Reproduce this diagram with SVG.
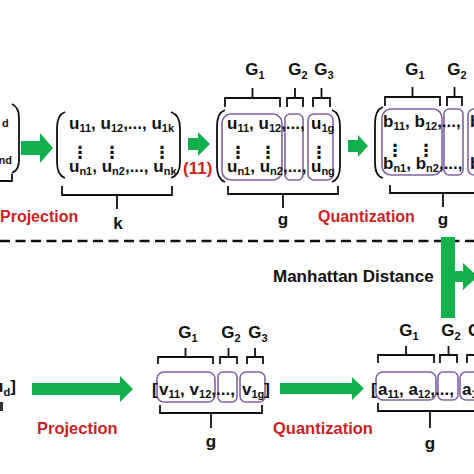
<svg xmlns="http://www.w3.org/2000/svg" width="474" height="474" viewBox="0 0 474 474">
<style>
.t{font-family:"Liberation Sans",Arial,sans-serif;font-weight:bold;font-size:17px;fill:#111}
.s{font-size:11px}
.red{fill:#cc1f26;font-size:16px}
.dots{font-family:"DejaVu Sans",sans-serif;font-weight:bold;font-size:17px;fill:#111;text-anchor:middle}
.br{fill:none;stroke:#111;stroke-width:1.8}
.box{fill:none;stroke:#8064a2;stroke-width:1.6}
.ar{fill:#12b04c}
.mid{text-anchor:middle}
</style>
<rect width="474" height="474" fill="#fff"/>

<!-- top left partial matrix -->
<g id="matrixX">
<text class="t s" x="2" y="127">d</text>
<text class="t s" x="-1.5" y="164">nd</text>
<path class="br" d="M12 104 Q19 107 19 118 L19 160 Q19 170 12 173"/>
<path class="br" d="M0 181 L12 181 L12 174"/>
</g>

<!-- matrix U (k) -->
<g id="matrixU">
<path class="br" d="M65 112 Q57 115 57 128 L57 162 Q57 175 65 178"/>
<path class="br" d="M171 112 Q180 115 180 128 L180 162 Q180 175 171 178"/>
<text class="t" x="69" y="129">u<tspan class="s" dy="3">11</tspan><tspan dy="-3">, u</tspan><tspan class="s" dy="3">12</tspan><tspan dy="-3">,..., u</tspan><tspan class="s" dy="3">1k</tspan></text>
<text class="dots" x="80" y="158">⋮</text>
<text class="dots" x="112" y="158">⋮</text>
<text class="dots" x="162" y="158">⋮</text>
<text class="t" x="69" y="172">u<tspan class="s" dy="3">n1</tspan><tspan dy="-3">, u</tspan><tspan class="s" dy="3">n2</tspan><tspan dy="-3">,..., u</tspan><tspan class="s" dy="3">nk</tspan></text>
<path class="br" d="M62 186 L62 195 L172 195 L172 186 M117 195 L117 209"/>
<text class="t mid" x="118" y="229">k</text>
</g>
<text class="t red" x="183" y="174" style="font-size:17px">(11)</text>

<!-- matrix U grouped (g) -->
<g id="matrixUg">
<path class="br" d="M225 110 Q217 113 217 126 L217 166 Q217 179 225 182"/>
<path class="br" d="M332 110 Q340 113 340 126 L340 166 Q340 179 332 182"/>
<rect class="box" x="222" y="114" width="60" height="66" rx="9"/>
<rect class="box" x="285" y="114" width="18" height="66" rx="5"/>
<rect class="box" x="308" y="114" width="25" height="66" rx="6"/>
<text class="t" x="227" y="129">u<tspan class="s" dy="3">11</tspan><tspan dy="-3">, u</tspan><tspan class="s" dy="3">12</tspan><tspan dy="-3">,...,</tspan></text>
<text class="t" x="311" y="129">u<tspan class="s" dy="3">1g</tspan></text>
<text class="dots" x="238" y="158">⋮</text>
<text class="dots" x="268" y="158">⋮</text>
<text class="dots" x="319" y="158">⋮</text>
<text class="t" x="227" y="172">u<tspan class="s" dy="3">n1</tspan><tspan dy="-3">, u</tspan><tspan class="s" dy="3">n2</tspan><tspan dy="-3">,...,</tspan></text>
<text class="t" x="311" y="172">u<tspan class="s" dy="3">ng</tspan></text>
<path class="br" d="M225 107 L225 98 L280 98 L280 107 M252.5 98 L252.5 88"/>
<path class="br" d="M287 107 L287 98 L303 98 L303 107 M295 98 L295 88"/>
<path class="br" d="M313 107 L313 98 L330 98 L330 107 M321.5 98 L321.5 88"/>
<text class="t mid" x="255" y="75">G<tspan class="s" dy="4">1</tspan></text>
<text class="t mid" x="298" y="75">G<tspan class="s" dy="4">2</tspan></text>
<text class="t mid" x="324" y="75">G<tspan class="s" dy="4">3</tspan></text>
<path class="br" d="M228 186 L228 194 L338 194 L338 186 M283 194 L283 208"/>
<text class="t mid" x="283" y="225">g</text>
</g>

<!-- matrix B -->
<g id="matrixB">
<path class="br" d="M383 107 Q375 110 375 123 L375 163 Q375 176 383 178"/>
<rect class="box" x="382" y="109" width="60" height="66" rx="9"/>
<rect class="box" x="444" y="109" width="19" height="66" rx="5"/>
<rect class="box" x="468" y="109" width="24" height="66" rx="6"/>
<text class="t" x="383" y="127">b<tspan class="s" dy="3">11</tspan><tspan dy="-3">, b</tspan><tspan class="s" dy="3">12</tspan><tspan dy="-3">,...,</tspan></text>
<text class="t" x="470" y="127">b</text>
<text class="dots" x="395" y="156">⋮</text>
<text class="dots" x="426" y="156">⋮</text>
<text class="t" x="383" y="169">b<tspan class="s" dy="3">n1</tspan><tspan dy="-3">, b</tspan><tspan class="s" dy="3">n2</tspan><tspan dy="-3">,...,</tspan></text>
<text class="t" x="470" y="169">b</text>
<path class="br" d="M385 106 L385 97 L440 97 L440 106 M412.5 97 L412.5 87"/>
<path class="br" d="M447 106 L447 97 L462 97 L462 106 M454.5 97 L454.5 87"/>
<text class="t mid" x="415" y="75">G<tspan class="s" dy="4">1</tspan></text>
<text class="t mid" x="457" y="75">G<tspan class="s" dy="4">2</tspan></text>
<path class="br" d="M390 185 L390 193 L480 193 M443 193 L443 207"/>
<text class="t mid" x="443" y="225">g</text>
</g>

<text class="t red" x="0" y="222">Projection</text>
<text class="t red" x="318" y="222">Quantization</text>

<!-- divider -->
<line x1="0" y1="241" x2="474" y2="241" stroke="#111" stroke-width="2.5" stroke-dasharray="10 5.5"/>
<text class="t" x="273" y="282">Manhattan Distance</text>

<!-- bottom left partial -->
<g id="vectorX">
<text class="t" x="-7" y="392">u<tspan class="s" dy="4">d</tspan><tspan dy="-4">]</tspan></text>
<line x1="1.5" y1="402" x2="1.5" y2="411" stroke="#333" stroke-width="3"/>
</g>

<!-- vector V -->
<g id="vectorV">
<rect class="box" x="157" y="372" width="58" height="30" rx="7"/>
<rect class="box" x="218" y="372" width="19" height="30" rx="5"/>
<rect class="box" x="240" y="372" width="25" height="30" rx="6"/>
<text class="t" x="152" y="395">[</text>
<text class="t" x="159" y="395">v<tspan class="s" dy="3">11</tspan><tspan dy="-3">, v</tspan><tspan class="s" dy="3">12</tspan><tspan dy="-3">,...,</tspan></text>
<text class="t" x="242" y="395">v<tspan class="s" dy="3">1g</tspan><tspan dy="-3">]</tspan></text>
<path class="br" d="M158 364 L158 357 L213 357 L213 364 M185.5 357 L185.5 348"/>
<path class="br" d="M220 364 L220 357 L237 357 L237 364 M228.5 357 L228.5 348"/>
<path class="br" d="M247 364 L247 357 L263 357 L263 364 M255 357 L255 348"/>
<text class="t mid" x="188" y="338">G<tspan class="s" dy="4">1</tspan></text>
<text class="t mid" x="231" y="338">G<tspan class="s" dy="4">2</tspan></text>
<text class="t mid" x="258" y="338">G<tspan class="s" dy="4">3</tspan></text>
<path class="br" d="M160 405 L160 413 L262 413 L262 405 M211 413 L211 428"/>
<text class="t mid" x="211" y="447">g</text>
</g>

<!-- vector A -->
<g id="vectorA">
<rect class="box" x="376" y="372" width="60" height="28" rx="7"/>
<rect class="box" x="438" y="372" width="20" height="28" rx="5"/>
<rect class="box" x="460" y="372" width="24" height="28" rx="6"/>
<text class="t" x="371" y="395">[</text>
<text class="t" x="378" y="395">a<tspan class="s" dy="3">11</tspan><tspan dy="-3">, a</tspan><tspan class="s" dy="3">12</tspan><tspan dy="-3">,...,</tspan></text>
<text class="t" x="462" y="395">a<tspan class="s" dy="3">1g</tspan></text>
<path class="br" d="M378 363 L378 355 L434 355 L434 363 M406 355 L406 346"/>
<path class="br" d="M440 363 L440 355 L457 355 L457 363 M448.5 355 L448.5 346"/>
<path class="br" d="M467 363 L467 355 L480 355"/>
<text class="t mid" x="409" y="336">G<tspan class="s" dy="4">1</tspan></text>
<text class="t mid" x="451" y="336">G<tspan class="s" dy="4">2</tspan></text>
<text class="t" x="468" y="336">G<tspan class="s" dy="4">3</tspan></text>
<path class="br" d="M378 403 L378 411 L480 411 M430 411 L430 428"/>
<text class="t mid" x="430" y="449">g</text>
</g>

<text class="t red" x="37" y="434" style="font-size:16.5px">Projection</text>
<text class="t red" x="273" y="434" style="font-size:16.5px">Quantization</text>

<g id="connectors">
<polygon class="ar" points="21,141 40,141 40,133 53,148 40,163 40,155 21,155"/>
<polygon class="ar" points="188,138 198,138 198,132 210,144 198,156 198,150 188,150"/>
<polygon class="ar" points="348,140 358,140 358,135 368,146 358,157 358,152 348,152"/>
<polygon class="ar" points="32,383 120,383 120,376 133,389 120,402 120,395 32,395"/>
<polygon class="ar" points="280,383 352,383 352,377 364,388.5 352,400 352,394 280,394"/>
<rect class="ar" x="441" y="237" width="14" height="81"/>
<polygon class="ar" points="455,271 463,271 463,263 478,276.5 463,290 463,282 455,282"/>
</g>
</svg>
